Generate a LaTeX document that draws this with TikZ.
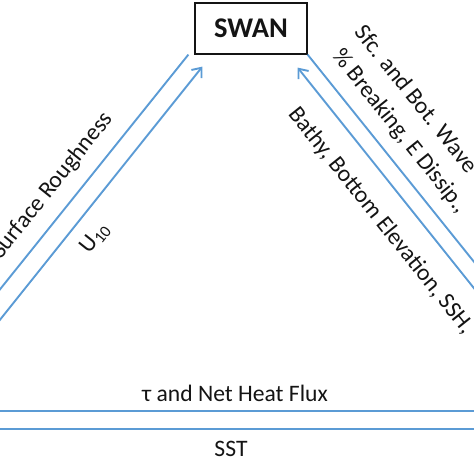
\documentclass[tikz,border=0pt]{standalone}
\usepackage{fontspec}
\setmainfont{Carlito}
\usepackage{tikz}
\usetikzlibrary{arrows.meta}
\definecolor{linkblue}{RGB}{91,155,213}

\begin{document}
\begin{tikzpicture}[x=1pt,y=-1pt,
  link/.style={line width=1.9pt,color=linkblue},
  tip/.style={-{Straight Barb[length=8pt,width=13pt]}},
  lbl/.style={inner sep=0pt,font=\fontsize{23.6}{28}\selectfont,color=black!92}]
\useasboundingbox (0,0) rectangle (474,474);
\clip (0,0) rectangle (474,474);
\node[draw=black!55,line width=1.2pt,minimum width=112pt,minimum height=51pt,inner sep=0pt,
  font=\fontsize{28.5}{32}\selectfont\bfseries,color=black!92] (swan) at (251,28.5) {SWAN};
% ends of the links, off the picture
\coordinate (wrf-out) at (-20,314.25);
\coordinate (wrf-in) at (-20,344.75);
\coordinate (roms-out) at (494,286.75);
\coordinate (roms-in) at (494,313.25);
\coordinate (tau-a) at (-20,411);
\coordinate (tau-b) at (494,411);
\coordinate (sst-a) at (494,429);
\coordinate (sst-b) at (-20,429);
\draw[link,tip] ([xshift=-6pt]swan.south west) -- (wrf-out);
\draw[link,tip] (wrf-in) -- ([xshift=8pt,yshift=-12pt]swan.south west);
\draw[link,tip] (roms-in) -- ([xshift=-10pt,yshift=-13pt]swan.south east);
\draw[link,tip] (swan.south east) -- (roms-out);
\draw[link,tip] (tau-a) -- (tau-b);
\draw[link,tip] (sst-a) -- (sst-b);
% labels
\node[lbl,anchor=base,rotate=51.34] (rough) at (57.4,189.4) {Surface Roughness};
\node[lbl,rotate=51.34] (wind) at (95,238) {U\textsubscript{10}};
\node[lbl,anchor=base west,rotate=-51.34] (stress) at (353.4,32.6) {Sfc. and Bot. Wave};
\node[lbl,anchor=base west,rotate=-51.34] (dissip) at (331.5,56.5) {\% Breaking, E Dissip.,};
\node[lbl,anchor=base west,rotate=-51.34] (bathy) at (287.4,114.5) {Bathy, Bottom Elevation, SSH,};
\node[lbl,anchor=base] (flux) at (235,401) {τ and Net Heat Flux};
\node[lbl,anchor=base] (sst) at (231,456) {SST};
\end{tikzpicture}
\end{document}
